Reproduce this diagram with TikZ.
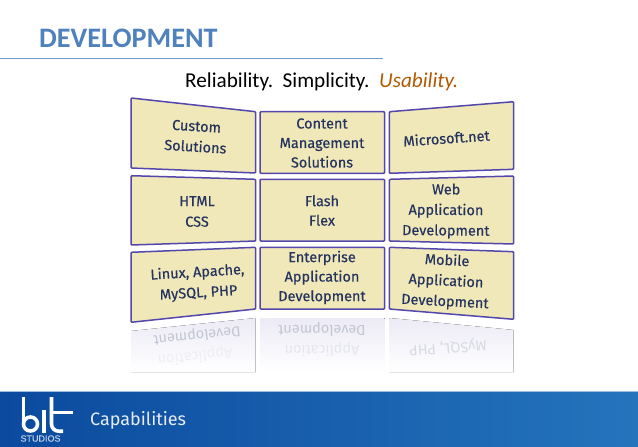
\documentclass[tikz,border=0pt]{standalone}
\usepackage{xcolor}
\usepackage{fontspec}
\setmainfont{Carlito}
\newfontfamily\panelfont[FakeBold=0.35]{Fira Sans}
\newfontfamily\footerfont{Fira Sans}
\newfontfamily\logofont[FakeBold=0.4]{Liberation Sans}
\definecolor{titleblue}{HTML}{4F81BD}
\definecolor{panelfill}{HTML}{F0E8B8}
\definecolor{paneledge}{HTML}{5347AC}
\definecolor{paneltext}{HTML}{25335F}
\definecolor{barleft}{HTML}{0B4A9E}
\definecolor{barright}{HTML}{2574BC}
\tikzset{
  panel/.style={draw=paneledge, fill=panelfill, line width=1.5pt, rounded corners=1pt},
  mirror/.style={top color=paneledge!11, bottom color=white, draw=none},
  paneltxt/.style={draw=none, font=\panelfont\fontsize{14.5}{19.5}\selectfont, text=paneltext, align=center, inner sep=0pt},
  widetxt/.style={paneltxt, font=\panelfont\fontsize{14.5}{20.5}\selectfont},
  mirrortxt/.style={paneltxt, font=\footerfont\fontsize{14.5}{19.5}\selectfont, text=paneltext!28}
}
\begin{document}
\begin{tikzpicture}[x=1pt, y=-1pt]
  \useasboundingbox (0,0) rectangle (638,447);
  \fill[white] (0,0) rectangle (638,447);

  % heading
  \node[draw=none, anchor=west, inner sep=0pt, text=titleblue, font=\bfseries\fontsize{28.2}{32}\selectfont] (heading) at (39,38) {DEVELOPMENT};
  \coordinate (ruleleft) at (0,58.5);
  \coordinate (ruleright) at (383,58.5);
  \draw[titleblue!80, line width=.8pt] (ruleleft) -- (ruleright);
  \node[draw=none, anchor=west, inner sep=0pt, font=\fontsize{21.2}{25}\selectfont] (motto) at (185,82) {Reliability.\ \ Simplicity.\ \ \textcolor{orange!70!black}{\textit{Usability.}}};

  % reflections under the bottom row
  \fill[mirror] (131,331) -- (255.7,318) -- (255.7,372) -- (131,372) -- cycle;
  \fill[mirror] (260,318) -- (384.7,318) -- (384.7,372) -- (260,372) -- cycle;
  \fill[mirror] (389.3,318) -- (513.7,330) -- (513.7,372) -- (389.3,372) -- cycle;
  \node[mirrortxt, rotate=186] (mirrordevleft) at (197,335) {Development};
  \node[mirrortxt, rotate=186, text=paneltext!8] (mirrorappleft) at (195,356) {Application};
  \node[mirrortxt, rotate=180] (mirrordev) at (322,329.5) {Development};
  \node[mirrortxt, rotate=180, text=paneltext!12] (mirrorapp) at (322,350) {Application};
  \node[mirrortxt, rotate=184, text=paneltext!18] (mirrorphp) at (448,347) {MySQL, PHP};

  % top row
  \draw[panel] (131,98) -- (255.7,111.7) -- (255.7,173) -- (131,168) -- cycle;
  \draw[panel] (260,111.7) -- (384.7,111.7) -- (384.7,173.3) -- (260,173.3) -- cycle;
  \draw[panel] (389.3,111.7) -- (513.7,101.7) -- (513.7,169.3) -- (389.3,173.3) -- cycle;
  \node[widetxt, rotate=-3.5] (custom) at (196,136.5) {Custom\\Solutions};
  \node[paneltxt] (content) at (322,143) {Content\\Management\\Solutions};
  \node[paneltxt, rotate=4] (dotnet) at (446.5,138) {Microsoft.net};

  % middle row
  \draw[panel] (131,175.7) -- (255.7,179.3) -- (255.7,241) -- (131,245) -- cycle;
  \draw[panel] (260,179.3) -- (384.7,179.3) -- (384.7,241) -- (260,241) -- cycle;
  \draw[panel] (389.3,179.3) -- (513.7,176) -- (513.7,244) -- (389.3,241) -- cycle;
  \node[widetxt] (html) at (197,211.5) {HTML\\CSS};
  \node[paneltxt] (flash) at (322,210.5) {Flash\\Flex};
  \node[widetxt, rotate=-.5] (web) at (446,211) {Web\\Application\\Development};

  % bottom row
  \draw[panel] (131,252.3) -- (255.7,247.3) -- (255.7,309) -- (131,322.3) -- cycle;
  \draw[panel] (260,247.3) -- (384.7,247.3) -- (384.7,309) -- (260,309) -- cycle;
  \draw[panel] (389.3,247.3) -- (513.7,251.7) -- (513.7,319.3) -- (389.3,309) -- cycle;
  \node[widetxt, rotate=3.5] (linux) at (198,283) {Linux, Apache,\\MySQL, PHP};
  \node[paneltxt] (enterprise) at (322,277.5) {Enterprise\\Application\\Development};
  \node[widetxt, rotate=-3] (mobile) at (446,281.5) {Mobile\\Application\\Development};

  % footer bar
  \shade[left color=barleft, right color=barright] (0,391) rectangle (638,447);
  \fill[barright!45!white] (0,390.6) rectangle (638,391.6);
  \draw[white, line width=3.6pt] (23.5,397) -- (23.5,424);
  \draw[white, line width=3.6pt] (30.5,424) circle (7);
  \draw[white, line width=3.6pt] (44,410) -- (44,433);
  \draw[white, line width=3.6pt] (51.5,397) -- (51.5,424) arc (180:90:7.2) -- (63,431.2);
  \draw[white, line width=2.6pt] (51.5,412.7) -- (73,412.7);
  \node[draw=none, inner sep=0pt, text=white!72!barleft, font=\logofont\fontsize{9}{10}\selectfont] (studios) at (40.5,438.5) {STUDIOS};
  \node[draw=none, anchor=west, inner sep=0pt, text=white!90!barleft, font=\footerfont\fontsize{18}{22}\selectfont] (capabilities) at (90,420) {Capabilities};
\end{tikzpicture}
\end{document}
